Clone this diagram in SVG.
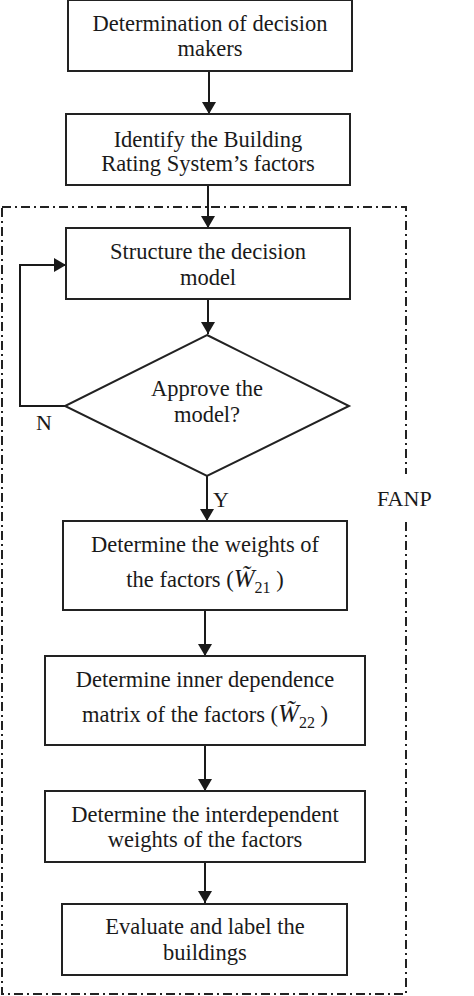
<svg xmlns="http://www.w3.org/2000/svg" width="474" height="996" viewBox="0 0 474 996">
<defs>
<marker id="ah" viewBox="0 0 12 14" refX="12" refY="7" markerWidth="12" markerHeight="14" markerUnits="userSpaceOnUse" orient="auto">
<path d="M0,0 L12,7 L0,14 Z" fill="#1a1a1a"/>
</marker>
</defs>
<style>
.box{fill:#fff;stroke:#222;stroke-width:2}
.t{font-family:"Liberation Serif","Times New Roman",serif;font-size:22.5px;fill:#1a1a1a;text-anchor:middle}
.lbl{font-family:"Liberation Serif","Times New Roman",serif;font-size:22px;fill:#1a1a1a}
.con{fill:none;stroke:#1a1a1a;stroke-width:2;marker-end:url(#ah)}
.frame{fill:none;stroke:#222;stroke-width:2;stroke-dasharray:9 4 2 4}
</style>
<g id="fanp">
<path class="frame" d="M2,207 L406,207 L406,474"/>
<path class="frame" d="M406,522 L406,994 L2,994 L2,207"/>
<text class="lbl" x="377" y="506">FANP</text>
</g>
<g id="connectors">
<line class="con" x1="209" y1="71" x2="209" y2="114"/>
<line class="con" x1="208" y1="185" x2="208" y2="228"/>
<line class="con" x1="208" y1="299" x2="208" y2="334"/>
<polyline class="con" points="65,406 20,406 20,265 66,265"/>
<line class="con" x1="207" y1="476" x2="207" y2="521"/>
<line class="con" x1="205" y1="610" x2="205" y2="656"/>
<line class="con" x1="205" y1="745" x2="205" y2="791"/>
<line class="con" x1="205" y1="862" x2="205" y2="903"/>
<text class="lbl" x="36" y="430">N</text>
<text class="lbl" x="213" y="507">Y</text>
</g>
<g id="n1">
<rect class="box" x="68" y="0" width="284" height="71"/>
<text class="t" x="210" y="31">Determination of decision</text>
<text class="t" x="210" y="56">makers</text>
</g>
<g id="n2">
<rect class="box" x="66" y="114" width="284" height="71"/>
<text class="t" x="208" y="147">Identify the Building</text>
<text class="t" x="208" y="171">Rating System’s factors</text>
</g>
<g id="n3">
<rect class="box" x="66" y="228" width="284" height="71"/>
<text class="t" x="208" y="259">Structure the decision</text>
<text class="t" x="208" y="285">model</text>
</g>
<g id="n4">
<polygon class="box" points="207,335 349,406 207,476 65,406"/>
<text class="t" x="207" y="396">Approve the</text>
<text class="t" x="207" y="422">model?</text>
</g>
<g id="n5">
<rect class="box" x="63" y="521" width="284" height="89"/>
<text class="t" x="205" y="552">Determine the weights of</text>
<text class="t" x="205" y="587">the factors (<tspan font-style="italic" font-size="25">W̃</tspan><tspan font-size="16" dy="6">21</tspan><tspan dy="-6"> )</tspan></text>
</g>
<g id="n6">
<rect class="box" x="45" y="656" width="320" height="89"/>
<text class="t" x="205" y="687">Determine inner dependence</text>
<text class="t" x="205" y="722">matrix of the factors  (<tspan font-style="italic" font-size="25">W̃</tspan><tspan font-size="16" dy="6">22</tspan><tspan dy="-6"> )</tspan></text>
</g>
<g id="n7">
<rect class="box" x="45" y="791" width="320" height="71"/>
<text class="t" x="205" y="822">Determine the interdependent</text>
<text class="t" x="205" y="847">weights of the factors</text>
</g>
<g id="n8">
<rect class="box" x="62" y="904" width="285" height="71"/>
<text class="t" x="205" y="934">Evaluate and label the</text>
<text class="t" x="205" y="960">buildings</text>
</g>
</svg>
